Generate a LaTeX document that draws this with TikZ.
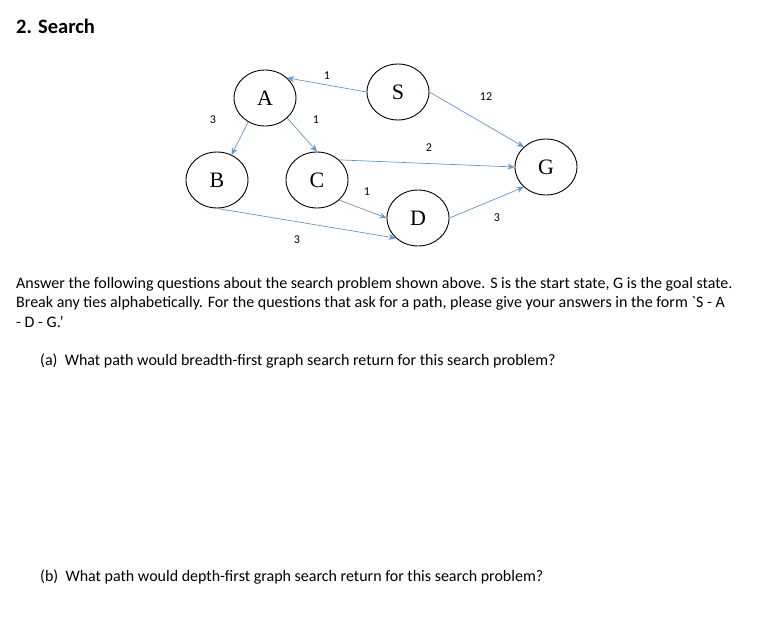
\documentclass[tikz,border=0pt]{standalone}
\usepackage{fontspec}
\setmainfont{Carlito}
\newfontfamily\serifnode{Liberation Serif}
\usetikzlibrary{shapes.geometric,arrows.meta}
\definecolor{edgec}{RGB}{100,150,205}
\tikzset{
  st/.style={ellipse,draw,line width=0.9pt,minimum width=62pt,minimum height=56pt,inner sep=0pt,font=\serifnode\fontsize{22}{22}\selectfont},
  ed/.style={draw=edgec,line width=0.7pt,-{Stealth[length=7pt,width=6pt]}},
  wl/.style={font=\fontsize{12}{12}\selectfont},
  tx/.style={anchor=west,inner sep=0pt,font=\fontsize{16}{16}\selectfont}
}
\begin{document}
\begin{tikzpicture}[x=1pt,y=-1pt]
\useasboundingbox (0,0) rectangle (769,620);
\node[anchor=west,inner sep=0pt,font=\bfseries\fontsize{20.5}{20.5}\selectfont] (t) at (16,26) {2. Search};
\node[st] (A) at (265,98) {A};
\node[st] (S) at (398,92) {S};
\node[st] (B) at (217,180) {B};
\node[st] (C) at (317,180) {C};
\node[st] (D) at (418,218) {D};
\node[st] (G) at (546,167) {G};
\draw[ed] (S.west) -- (A.north east) node[wl,pos=0.5,above=2pt] {1};
\draw[ed] (A.235) -- (B.60);
\node[wl] (l1) at (213,120) {3};
\draw[ed] (A.south east) -- (C.north);
\node[wl] (l2) at (316,120) {1};
\draw[ed] (S.east) -- (G.north west);
\node[wl] (l3) at (486,97) {12};
\draw[ed] (C.north east) -- (G.west);
\node[wl] (l4) at (429,148) {2};
\draw[ed] (C.south east) -- (D.west);
\node[wl] (l5) at (367,192) {1};
\draw[ed] (B.south) -- (D.south west);
\node[wl] (l6) at (297,240) {3};
\draw[ed] (D.east) -- (G.south west);
\node[wl] (l7) at (497,218) {3};
\node[tx] (p1) at (16,284) {Answer the following questions about the search problem shown above. S is the start state, G is the goal state.};
\node[tx] (p2) at (16,303) {Break any ties alphabetically. For the questions that ask for a path, please give your answers in the form \textasciigrave S - A};
\node[tx] (p3) at (16,322) {- D - G.'};
\node[tx] (qa) at (40,361) {(a)\ \ What path would breadth-first graph search return for this search problem?};
\node[tx] (qb) at (40,577) {(b)\ \ What path would depth-first graph search return for this search problem?};
\end{tikzpicture}
\end{document}
